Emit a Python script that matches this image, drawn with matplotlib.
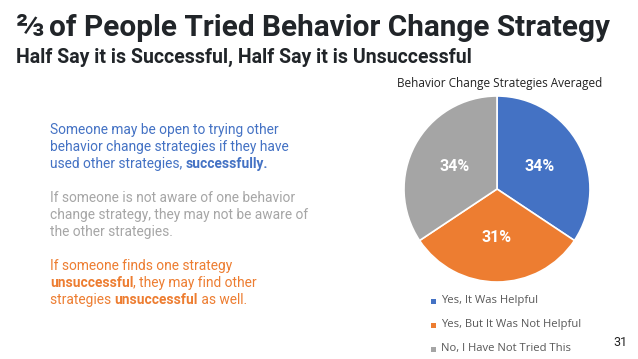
import io
import matplotlib
matplotlib.use("Agg")
import matplotlib.pyplot as plt
import numpy as np

categories = ["Yes, It Was Helpful", "Yes, But It Was Not Helpful", "No, I Have Not Tried This"]
values = [34, 31, 34]
colors = ["#4472C4", "#ED7D31", "#A5A5A5"]

title_frac = "⅔"
title_rest = "of People Tried Behavior Change Strategy"
subtitle = "Half Say it is Successful, Half Say it is Unsuccessful"
chart_title = "Behavior Change Strategies Averaged"
page_number = "31"

W, H = 638, 359
fig = plt.figure(figsize=(W / 100, H / 100), dpi=100)
fig.patch.set_facecolor("white")

def px(x, y):
    return x / W, 1 - y / H

def ink_box(t):
    others = [a for a in fig.texts if a is not t]
    vis = [a.get_visible() for a in others]
    for a in others:
        a.set_visible(False)
    b = io.BytesIO()
    fig.savefig(b, format="png", dpi=100, facecolor="white")
    b.seek(0)
    img = plt.imread(b)[:, :, :3]
    for a, v in zip(others, vis):
        a.set_visible(v)
    ys, xs = np.where(img.sum(axis=2) < 2.4)
    return xs.min(), xs.max()

def fit_ink(x_left, x_right, y, s, size, **kw):
    t = fig.text(x_left / W, 1 - y / H, s, fontsize=size, ha="left", va="baseline", **kw)
    lo, hi = size * 0.7, size * 1.4
    for _ in range(10):
        mid = (lo + hi) / 2
        t.set_fontsize(mid)
        x0, x1 = ink_box(t)
        if x1 - x0 > x_right - x_left:
            hi = mid
        else:
            lo = mid
    t.set_fontsize(lo)
    t.set_x(x_left / W)
    x0, x1 = ink_box(t)
    t.set_x((2 * x_left - x0) / W)
    return t

dark = "#212529"
fit_ink(17, 42, 36, title_frac, 22, fontweight="bold", family=["Roboto", "DejaVu Sans"], color=dark)
fit_ink(50, 611, 36, title_rest, 22, fontweight="bold", family="Roboto", color=dark)
fit_ink(17, 470, 63, subtitle, 14, fontweight="bold", family="Roboto", color=dark)
fig.canvas.draw()
renderer = fig.canvas.get_renderer()

def seg_line(x, y, segs, color, size):
    cx = x
    for s, bold in segs:
        t = fig.text(cx / W, 1 - y / H, s, fontsize=size, family="Roboto",
                     fontweight="bold" if bold else "normal", color=color,
                     va="baseline", ha="left")
        bb = t.get_window_extent(renderer=renderer)
        cx += bb.width

body_size = 9.9

blue_t = "#4472C4"
gray_t = "#A6A6A6"
orange_t = "#ED7D31"
lh = 16.8
paragraphs = [
    (blue_t, 134, [[("Someone may be open to trying other", False)],
                   [("behavior change strategies if they have", False)],
                   [("used other strategies, ", False), ("successfully.", True)]]),
    (gray_t, 202, [[("If someone is not aware of one behavior", False)],
                   [("change strategy, they may not be aware of", False)],
                   [("the other strategies.", False)]]),
    (orange_t, 270, [[("If someone finds one strategy", False)],
                     [("unsuccessful", True), (", they may find other", False)],
                     [("strategies ", False), ("unsuccessful", True), (" as well.", False)]]),
]
for col, y0, lines in paragraphs:
    for i, segs in enumerate(lines):
        seg_line(50, y0 + i * lh, segs, col, body_size)

# pie
cx, cy, r = 497, 189, 93
ax = fig.add_axes([(cx - r) / W, (H - cy - r) / H, 2 * r / W, 2 * r / H])
wedges, texts, autotexts = ax.pie(values, colors=colors, startangle=90, counterclock=False,
                                  autopct=lambda p: f"{p:.0f}%", pctdistance=0.52,
                                  wedgeprops=dict(edgecolor="white", linewidth=1.2),
                                  textprops=dict(color="white", fontsize=11.5, fontweight="bold",
                                                 family="Roboto"))
for t, v in zip(autotexts, values):
    t.set_text(f"{v}%")
ax.set_xlim(-1, 1)
ax.set_ylim(-1, 1)
ax.set_aspect("equal")
ax.axis("off")

fig.text(*px(500, 83), chart_title, fontsize=8.5, family="Open Sans", color="#222222",
         ha="center", va="center")

for i, (lab, col) in enumerate(zip(categories, colors)):
    y = 301 + i * 24
    fig.patches.append(plt.Rectangle((431 / W, 1 - (y + 3) / H), 5 / W, 5 / H,
                                     transform=fig.transFigure, facecolor=col, edgecolor="none"))
    fig.text(*px(441, y), lab, fontsize=8.1, family="Open Sans", color="#595959",
             ha="left", va="center")

fig.text(*px(620, 343), page_number, fontsize=9, family="Roboto", color="#222222",
         ha="center", va="center")

fig.savefig("out.png", dpi=100, facecolor="white")
